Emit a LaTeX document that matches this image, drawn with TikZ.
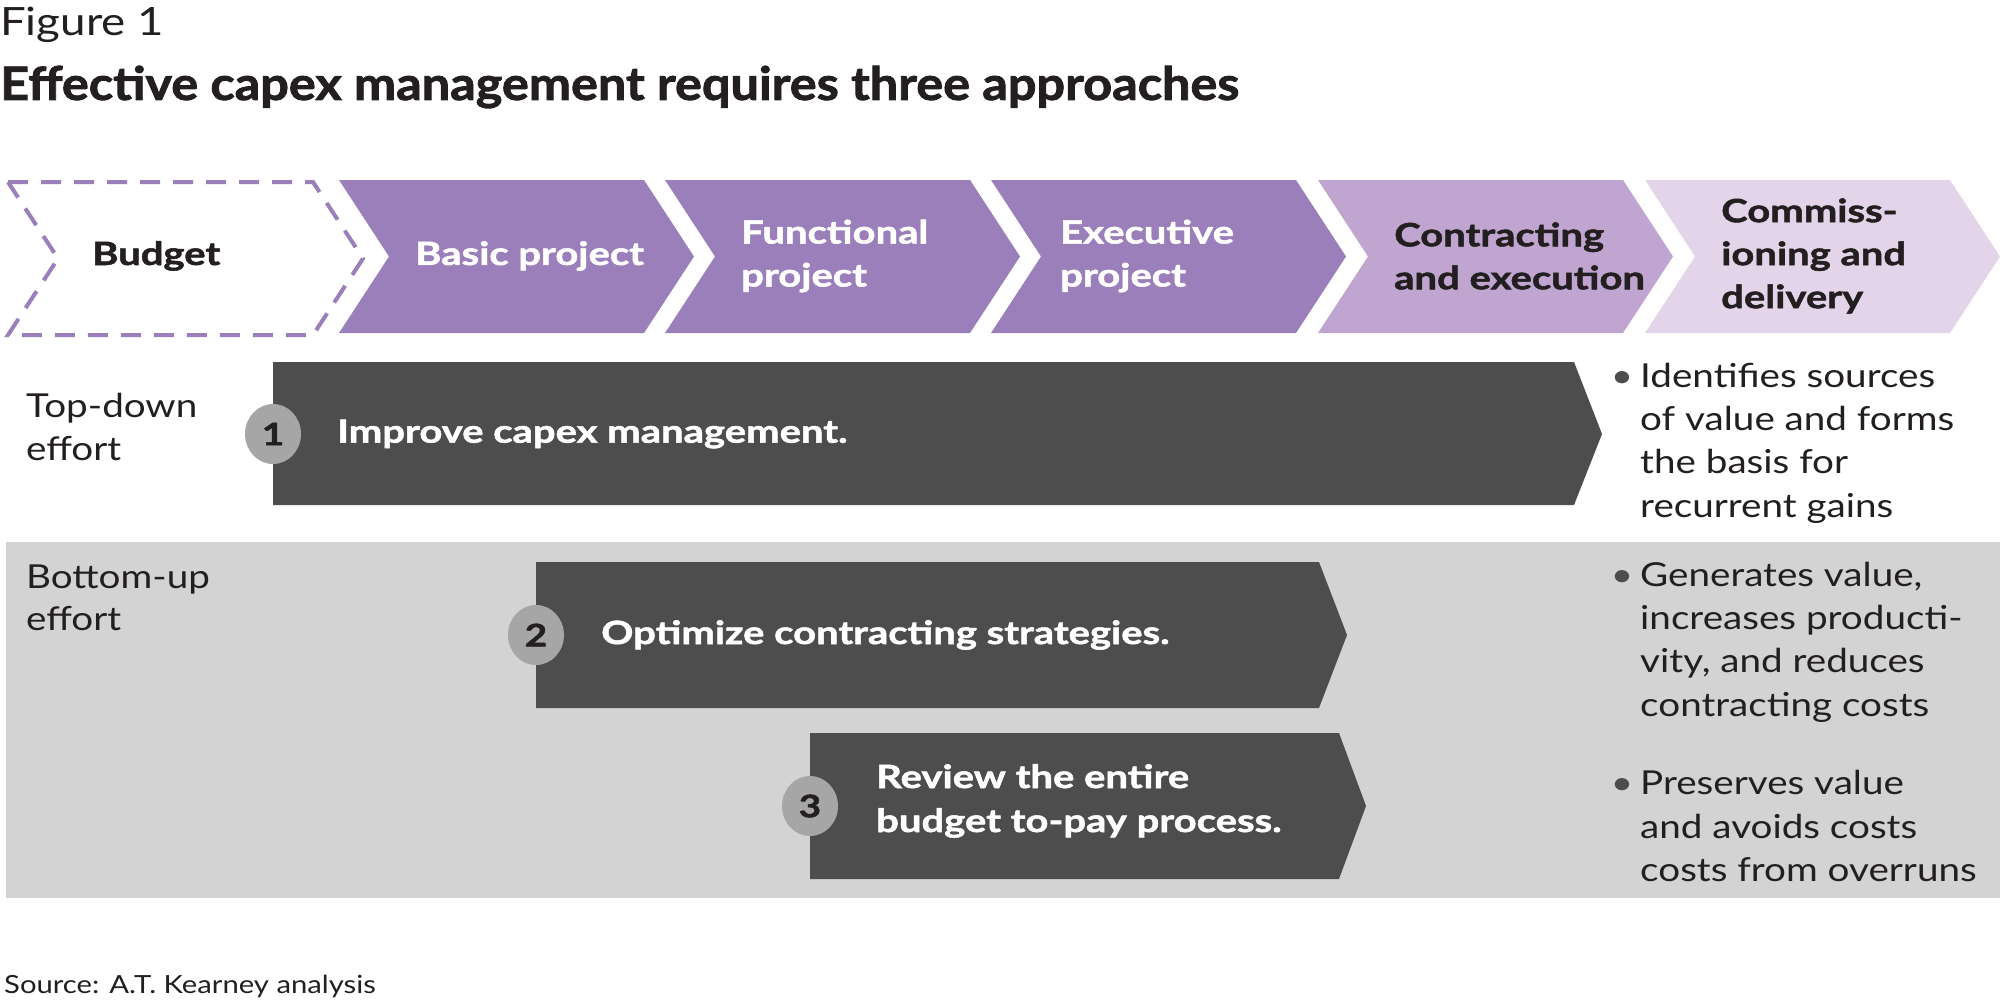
\documentclass[tikz,border=0pt]{standalone}
\usepackage{fontspec}
\usetikzlibrary{shapes.geometric}
\setmainfont{Lato}[FakeStretch=1.17]
\newfontfamily\bfam{Lato}[FakeStretch=1.25,BoldFeatures={FakeBold=1.6}]
\newfontfamily\tfam{Lato}[FakeStretch=1.095,BoldFeatures={FakeBold=1.8}]
\definecolor{purp}{RGB}{155,127,186}
\definecolor{purpmid}{RGB}{191,165,207}
\definecolor{purplight}{RGB}{227,212,233}
\definecolor{darkbar}{RGB}{77,77,77}
\definecolor{circ}{RGB}{166,166,166}
\definecolor{band}{RGB}{211,211,211}
\definecolor{ink}{RGB}{35,31,32}
\begin{document}
\begin{tikzpicture}[x=1pt,y=-1pt,
  chev/.pic={\path[pic actions] (0,0) -- (305,0) -- (355,76.5) -- (305,153) -- (0,153) -- (50,76.5) -- cycle;},
  stagelabel/.style={anchor=west,inner sep=0pt,align=left,font=\bfam\fontsize{32}{43}\selectfont\bfseries},
  bartext/.style={anchor=west,inner sep=0pt,align=left,text=white,font=\bfam\fontsize{32}{44}\selectfont\bfseries},
  numcirc/.style={ellipse,minimum width=56pt,minimum height=60pt,inner sep=0pt,fill=circ,text=ink,font=\bfam\fontsize{31}{31}\selectfont\bfseries},
  rowlabel/.style={anchor=west,inner sep=0pt,align=left,text=ink,font=\fontsize{33}{42.5}\selectfont},
  bullettext/.style={anchor=west,inner sep=0pt,align=left,text=ink,font=\fontsize{33}{43.4}\selectfont},
  bar/.style={fill=darkbar}
]
\useasboundingbox (0,0) rectangle (2000,1001);
\fill[white] (0,0) rectangle (2000,1001);

% titles
\node[anchor=west,inner sep=0pt,text=ink,font=\fontsize{39}{39}\selectfont] (fig) at (0,25) {Figure 1};
\node[anchor=west,inner sep=0pt,text=ink,font=\tfam\fontsize{46}{46}\selectfont\bfseries] (title) at (0,87) {Effective capex management requires three approaches};

% stage chevrons
\pic[draw=purp,fill=white,line width=4pt,dash pattern=on 20pt off 13pt] at (8,182) {chev};
\pic[fill=purp] at (339,180) {chev};
\pic[fill=purp] at (665,180) {chev};
\pic[fill=purp] at (991,180) {chev};
\pic[fill=purpmid] at (1318,180) {chev};
\pic[fill=purplight] at (1645,180) {chev};

\node[stagelabel,text=ink] (s1) at (92,256) {Budget};
\node[stagelabel,text=white] (s2) at (415,256) {Basic project};
\node[stagelabel,text=white] (s3) at (741,256) {Functional\\project};
\node[stagelabel,text=white] (s4) at (1060,256) {Executive\\project};
\node[stagelabel,text=ink] (s5) at (1394,256) {Contracting\\and execution};
\node[stagelabel,text=ink] (s6) at (1721,256) {Commiss-\\ioning and\\delivery};

% grey band
\fill[band] (6,542) rectangle (2000,898);

% row labels
\node[rowlabel] (r1) at (26,427) {Top-down\\effort};
\node[rowlabel] (r2) at (26,598) {Bottom-up\\effort};

% bars
\fill[bar] (273,362) -- (1574,362) -- (1602,434) -- (1574,505) -- (273,505) -- cycle;
\fill[bar] (536,562) -- (1319,562) -- (1347,635) -- (1319,708) -- (536,708) -- cycle;
\fill[bar] (810,733) -- (1339,733) -- (1366,806) -- (1339,879) -- (810,879) -- cycle;

\node[numcirc] (c1) at (273,434) {1};
\node[numcirc] (c2) at (536,635) {2};
\node[numcirc] (c3) at (810,806) {3};

\node[bartext] (b1) at (337,434) {Improve capex management.};
\node[bartext] (b2) at (601,635) {Optimize contracting strategies.};
\node[bartext] (b3) at (876,801) {Review the entire\\budget to-pay process.};

% bullets
\node[bullettext] (t1) at (1640,443) {\llap{\textcolor{darkbar}{\textbullet}\hspace{7pt}}Identifies sources\\of value and forms\\the basis for\\recurrent gains};
\node[bullettext] (t2) at (1640,642) {\llap{\textcolor{darkbar}{\textbullet}\hspace{7pt}}Generates value,\\increases producti-\\vity, and reduces\\contracting costs};
\node[bullettext] (t3) at (1640,826) {\llap{\textcolor{darkbar}{\textbullet}\hspace{7pt}}Preserves value\\and avoids costs\\costs from overruns};

% source
\node[anchor=west,inner sep=0pt,text=ink,font=\fontsize{25}{25}\selectfont] (src) at (4,986) {Source: A.T. Kearney analysis};
\end{tikzpicture}
\end{document}
